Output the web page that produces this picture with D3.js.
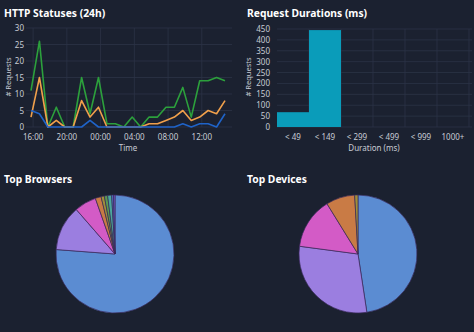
<!DOCTYPE html>
<html><head><meta charset="utf-8">
<script src="https://cdn.jsdelivr.net/npm/d3@7"></script>
<style>
html,body{margin:0;padding:0;background:#1b2130;}
svg{display:block;font-family:"Noto Sans",sans-serif;}
</style></head><body>
<svg id="c" width="474" height="332"></svg>
<script>
// ---- data ----
const hours = ["15:45","16:45","17:45","18:45","19:45","20:45","21:45","22:45","23:45","00:45","01:45","02:45","03:45","04:45","05:45","06:45","07:45","08:45","09:45","10:45","11:45","12:45","13:45","14:45"];
const status2xx = [11,26,0,6,0,0,15,4,15,1,1,0,3,0,3,3,6,6,12,3,14,14,15,14];
const status3xx = [3,15,0,2,0,0,8,3,6,0,0,0,0,0,1,1,2,3,5,2,3,5,4,8];
const status4xx = [5,4,0,0,0,0,0,2,0,0,0,0,0,0,0,0,0,0,1,0,1,1,0,4];
const statusColors = ["#2ca03c","#f0a04b","#1f63c8"];
const yTicksLine = [0,5,10,15,20,25,30];
const xTickTimes = ["16:00","20:00","00:00","04:00","08:00","12:00"];

const durCats = ["< 49","< 149","< 299","< 499","< 999","1000+"];
const durVals = [68,445,0,0,0,0];
const yTicksBar = [0,50,100,150,200,250,300,350,400,450];

const browserVals = [76.2,12.4,6.0,1.6,0.9,0.9,1.1,0.5,0.4];
const deviceVals = [47.6,29.5,14.1,7.9,0.9];
const pieColors = ["#5b8cd2","#9b7ee0","#d35bc6","#c97b45","#a08f3a","#5b9a52","#4ba79b","#4f79c4","#7d5ad0"];

const svg = d3.select("#c");
const tick = "#c8ccd4", grid = "#2c3446";

function title(x,y,t){svg.append("text").attr("x",x).attr("y",y).attr("fill","#fff").attr("font-size",10.3).attr("font-weight","bold").text(t);}

// ---- line chart ----
title(4,17,"HTTP Statuses (24h)");
const parse = (s,i)=>{const [h,m]=s.split(":").map(Number);return new Date(2024,0, i<9 && h>=15 ? 1 : 2, h, m);};
const times = hours.map(parse);
const x = d3.scaleTime().domain([times[0],times[times.length-1]]).range([31,225]);
const y = d3.scaleLinear().domain([0,30]).range([127,28]);
const g1 = svg.append("g");
yTicksLine.forEach(v=>{
  g1.append("line").attr("x1",26).attr("x2",232).attr("y1",y(v)).attr("y2",y(v)).attr("stroke",grid).attr("stroke-width",0.8);
  g1.append("text").attr("x",24).attr("y",y(v)+3).attr("text-anchor","end").attr("fill",tick).attr("font-size",8).text(v);
});
const tickDates = [new Date(2024,0,1,16),new Date(2024,0,1,20),new Date(2024,0,2,0),new Date(2024,0,2,4),new Date(2024,0,2,8),new Date(2024,0,2,12)];
tickDates.forEach((d,i)=>{
  g1.append("line").attr("x1",x(d)).attr("x2",x(d)).attr("y1",28).attr("y2",127).attr("stroke",grid).attr("stroke-width",0.8);
  g1.append("text").attr("x",x(d)).attr("y",140).attr("text-anchor","middle").attr("fill",tick).attr("font-size",8).text(xTickTimes[i]);
});
g1.append("text").attr("x",128).attr("y",151).attr("text-anchor","middle").attr("fill",tick).attr("font-size",8).text("Time");
g1.append("text").attr("transform","translate(11,77) rotate(-90)").attr("text-anchor","middle").attr("fill",tick).attr("font-size",7.5).text("# Requests");
const line = d3.line().x((d,i)=>x(times[i])).y(d=>y(d));
[status2xx,status3xx,status4xx].forEach((s,k)=>{
  g1.append("path").attr("d",line(s)).attr("fill","none").attr("stroke",statusColors[k]).attr("stroke-width",1.6).attr("stroke-linejoin","round");
});

// ---- bar chart ----
title(247,17,"Request Durations (ms)");
const xb = d3.scaleBand().domain(durCats).range([277,469]).padding(0);
const yb = d3.scaleLinear().domain([0,450]).range([127,29]);
const g2 = svg.append("g");
yTicksBar.forEach(v=>{
  g2.append("line").attr("x1",277).attr("x2",472).attr("y1",yb(v)).attr("y2",yb(v)).attr("stroke",grid).attr("stroke-width",0.8);
  g2.append("text").attr("x",270).attr("y",yb(v)+3).attr("text-anchor","end").attr("fill",tick).attr("font-size",8).text(v);
});
durCats.forEach(c=>{
  g2.append("line").attr("x1",xb(c)+xb.bandwidth()).attr("x2",xb(c)+xb.bandwidth()).attr("y1",29).attr("y2",127).attr("stroke",grid).attr("stroke-width",0.8);
  g2.append("text").attr("x",xb(c)+xb.bandwidth()/2).attr("y",140).attr("text-anchor","middle").attr("fill",tick).attr("font-size",8).text(c);
});
g2.selectAll("rect.b").data(durVals).enter().append("rect")
  .attr("x",(d,i)=>xb(durCats[i])).attr("width",xb.bandwidth())
  .attr("y",d=>yb(d)).attr("height",d=>127-yb(d)).attr("fill","#0a9cba");
g2.append("text").attr("x",374).attr("y",151).attr("text-anchor","middle").attr("fill",tick).attr("font-size",8).text("Duration (ms)");
g2.append("text").attr("transform","translate(251,77) rotate(-90)").attr("text-anchor","middle").attr("fill",tick).attr("font-size",7.5).text("# Requests");

// ---- pies ----
function pie(cx,cy,r,vals){
  const arcs = d3.pie().sort(null)(vals);
  const arc = d3.arc().innerRadius(0).outerRadius(r);
  svg.append("g").attr("transform",`translate(${cx},${cy})`).selectAll("path").data(arcs).enter().append("path")
    .attr("d",arc).attr("fill",(d,i)=>pieColors[i]).attr("stroke","#3a2a5a").attr("stroke-width",0.7);
}
title(4,183,"Top Browsers");
pie(115,254,59,browserVals);
title(247,183,"Top Devices");
pie(358,254,59,deviceVals);
</script>
</body></html>
